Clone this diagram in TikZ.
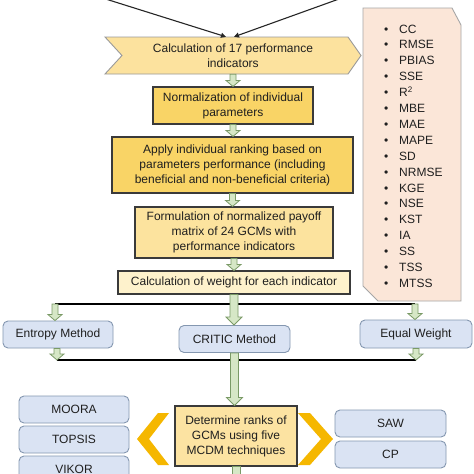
\documentclass[tikz,border=0pt]{standalone}
\usepackage{fontspec}
\setmainfont{Liberation Sans}
\usetikzlibrary{arrows.meta,calc}
\definecolor{txt}{HTML}{1F1F1F}
\definecolor{boxline}{HTML}{3A3A3A}
\definecolor{normfill}{HTML}{F9D466}
\definecolor{formfill}{HTML}{FCE39E}
\definecolor{wfill}{HTML}{FEF2CC}
\definecolor{detfill}{HTML}{FCE3A2}
\definecolor{chevfill}{HTML}{FCE29E}
\definecolor{chevline}{HTML}{9A9A9A}
\definecolor{bluefill}{HTML}{DAE3F3}
\definecolor{blueline}{HTML}{8497B0}
\definecolor{listfill}{HTML}{FBE6D8}
\definecolor{listline}{HTML}{A6A6A6}
\definecolor{gfill}{HTML}{D6E7C6}
\definecolor{gline}{HTML}{7A9A66}
\definecolor{chevgold}{HTML}{F5B700}
\newcommand{\itm}[1]{\makebox[15pt][l]{\textbullet}#1}
% vertical block arrow: from, to, half shaft, half head, head length
\newcommand{\GreenArrow}[5]{%
  \path[ga] let \p1=(#1), \p2=(#2) in
    (\x1-#3,\y1) -- (\x1+#3,\y1) -- (\x1+#3,\y2+#5) -- (\x1+#4,\y2+#5) --
    (\x1,\y2) -- (\x1-#4,\y2+#5) -- (\x1-#3,\y2+#5) -- cycle;}
\begin{document}
\begin{tikzpicture}[x=1pt,y=-1pt,
  every node/.style={font=\fontsize{12}{15}\selectfont, text=txt},
  goldbox/.style={draw=boxline, line width=1.1pt, fill=#1, align=center, inner sep=0pt},
  bluebox/.style={draw=blueline, line width=0.9pt, fill=bluefill, rounded corners=5pt,
     inner sep=0pt, minimum width=110pt, minimum height=27pt},
  ga/.style={fill=gfill, draw=gline, line width=0.8pt, line join=miter},
  conn/.style={draw=black, line width=1.6pt},
  topline/.style={draw=black!85, line width=1.1pt, -{Triangle[length=5pt,width=5pt]}},
]
\useasboundingbox (0,0) rectangle (474,474);
\fill[white] (0,0) rectangle (474,474);

% ---------- chevron "Calculation of 17 performance indicators"
\filldraw[draw=chevline, fill=chevfill, line width=0.9pt]
  (105,37) -- (348,37) -- (361,55.5) -- (348,74) -- (105,74) -- (122,55.5) -- cycle;
\node[minimum width=256pt, minimum height=37pt, inner sep=0pt, align=center]
  (calc) at (233,55.5) {Calculation of 17 performance\\indicators};

% incoming lines from above
\coordinate (src1) at (77,-10);
\coordinate (src2) at (364,-10);
\draw[topline] (src1) -- ([xshift=-7pt]calc.north);
\draw[topline] (src2) -- ([xshift=1pt]calc.north);

% ---------- list of indicators
\filldraw[draw=listline, fill=listfill, line width=0.9pt]
  (363,8) -- (452,8) -- (461,25) -- (461,301) -- (378,301) -- (363,286) -- cycle;
\node[anchor=north west, align=left, inner sep=0pt, font=\fontsize{12}{15.9}\selectfont]
  (ind) at (384,24.5) {\itm{CC}\\ \itm{RMSE}\\ \itm{PBIAS}\\ \itm{SSE}\\ \itm{R\textsuperscript{2}}\\
  \itm{MBE}\\ \itm{MAE}\\ \itm{MAPE}\\ \itm{SD}\\ \itm{NRMSE}\\ \itm{KGE}\\ \itm{NSE}\\
  \itm{KST}\\ \itm{IA}\\ \itm{SS}\\ \itm{TSS}\\ \itm{MTSS}};

% ---------- main column
\node[goldbox=normfill, minimum width=160pt, minimum height=37pt]
  (norm) at (233,105.5) {Normalization of individual\\parameters};
\node[goldbox=normfill, minimum width=241pt, minimum height=56pt]
  (rank) at (232.5,165) {Apply individual ranking based on\\parameters performance (including\\beneficial and non-beneficial criteria)};
\node[goldbox=formfill, minimum width=198pt, minimum height=51pt]
  (form) at (234,232.5) {Formulation of normalized payoff\\matrix of 24 GCMs with\\performance indicators};
\node[goldbox=wfill, minimum width=232pt, minimum height=23pt]
  (wcalc) at (234,282.5) {Calculation of weight for each indicator};

% ---------- weighting methods
\node[bluebox] (entropy) at (58,334.5) {Entropy Method};
\node[bluebox, minimum width=111pt] (critic) at (234.5,339) {CRITIC Method};
\node[bluebox, minimum width=112pt, minimum height=28pt] (equal) at (416,334) {Equal Weight};

\coordinate (lsplit) at (55,304);
\coordinate (rsplit) at (415,304);
\coordinate (ljoin) at (57,360);
\coordinate (rjoin) at (416,360);
\draw[conn] (lsplit) -- (rsplit);
\draw[conn] (ljoin) -- (rjoin);

% ---------- ranking
\node[goldbox=detfill, minimum width=122pt, minimum height=60pt]
  (det) at (236,436) {Determine ranks of\\GCMs using five\\MCDM techniques};

\node[bluebox] (moora) at (74,409.5) {MOORA};
\node[bluebox] (topsis) at (74,439.5) {TOPSIS};
\node[bluebox] (vikor) at (74,469.5) {VIKOR};
\node[bluebox, minimum width=111pt] (saw) at (390.5,423.5) {SAW};
\node[bluebox, minimum width=111pt] (cp) at (390.5,454.5) {CP};

\fill[chevgold] (158,413) -- (169,413) -- (149,439) -- (169,465) -- (158,465) -- (137,439) -- cycle;
\fill[chevgold] (298,413) -- (310,413) -- (333,439) -- (310,465) -- (298,465) -- (321,439) -- cycle;

% ---------- green block arrows
\GreenArrow{calc.south}{norm.north}{3pt}{7pt}{6pt}
\GreenArrow{norm.south}{rank.north}{3pt}{7pt}{6pt}
\GreenArrow{rank.south}{form.north}{3pt}{7pt}{6pt}
\GreenArrow{form.south}{wcalc.north}{3pt}{7pt}{6pt}
\GreenArrow{wcalc.south}{critic.north}{4pt}{8pt}{8pt}
\GreenArrow{lsplit}{entropy.north}{3pt}{7pt}{6pt}
\GreenArrow{rsplit}{equal.north}{3pt}{7pt}{6pt}
\GreenArrow{ljoin |- entropy.south}{ljoin}{3pt}{7pt}{6pt}
\GreenArrow{rjoin |- equal.south}{rjoin}{3pt}{7pt}{6pt}
\GreenArrow{critic.south}{det.north}{4pt}{8pt}{8pt}
\coordinate (exit) at (236,480);
\path[ga] let \p1=(det.south), \p2=(exit) in (\x1-4pt,\y1) rectangle (\x1+4pt,\y2);
\end{tikzpicture}
\end{document}
